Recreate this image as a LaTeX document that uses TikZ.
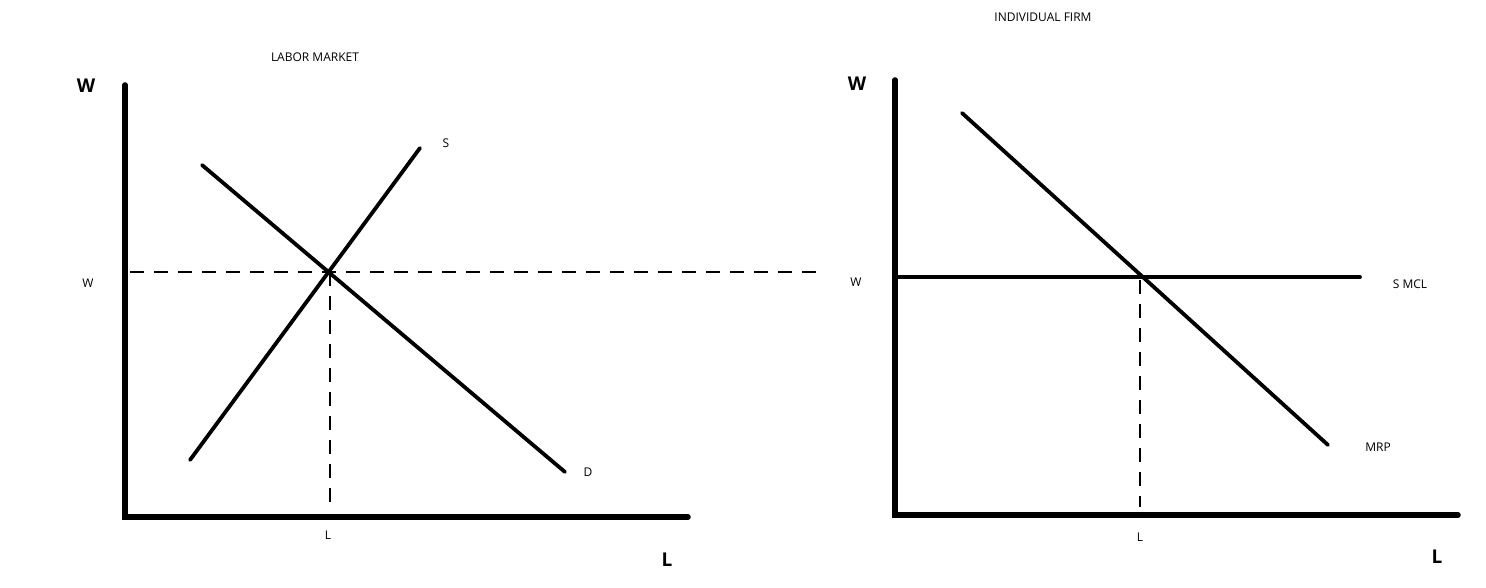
\documentclass[tikz,border=0pt]{standalone}
\usepackage{fontspec}
\setmainfont{Open Sans}
\begin{document}
\begin{tikzpicture}[x=1pt,y=-1pt,
  axis/.style={line width=5.5pt,line cap=round},
  curve/.style={line width=3.8pt,line cap=round},
  guide/.style={line width=1.3pt,dash pattern=on 14pt off 10pt},
  lab/.style={font=\fontsize{12}{14}\selectfont},
  big/.style={font=\bfseries\fontsize{19}{22}\selectfont}]
\useasboundingbox (0,0) rectangle (1486,588);
% left panel
\coordinate (ly) at (125,85); \coordinate (lo) at (125,517); \coordinate (lx) at (688,517);
\draw[guide] (130,272) -- (822,272);
\draw[guide] (330,272) -- (330,507);
\draw[axis] (ly) -- (lo) -- (lx);
\coordinate (s1) at (190,460); \coordinate (s2) at (420,148);
\coordinate (d1) at (202,165); \coordinate (d2) at (565,472);
\draw[curve] (s1) -- (s2);
\draw[curve] (d1) -- (d2);
\node[lab] (t1) at (315,57) {LABOR MARKET};
\node[big] (wl) at (86,86) {W};
\node[big] (ll) at (667,560) {L};
\node[lab] (wlab) at (88,283) {W};
\node[lab] (llab) at (328,535) {L};
\node[lab] (slab) at (446,143) {S};
\node[lab] (dlab) at (588,472) {D};
% right panel
\coordinate (ry) at (895,80); \coordinate (ro) at (895,515); \coordinate (rx) at (1458,515);
\draw[guide] (1140,280) -- (1140,507);
\draw[axis] (ry) -- (ro) -- (rx);
\coordinate (h1) at (895,277); \coordinate (h2) at (1360,277);
\coordinate (m1) at (962,113); \coordinate (m2) at (1328,445);
\draw[curve] (h1) -- (h2);
\draw[curve] (m1) -- (m2);
\node[lab] (t2) at (1043,17) {INDIVIDUAL FIRM};
\node[big] (wr) at (857,84) {W};
\node[big] (lr) at (1437,557) {L};
\node[lab] (wlab2) at (856,282) {W};
\node[lab] (smcl) at (1410,284) {S MCL};
\node[lab] (mrp) at (1378,447) {MRP};
\node[lab] (llab2) at (1140,537) {L};
\end{tikzpicture}
\end{document}
